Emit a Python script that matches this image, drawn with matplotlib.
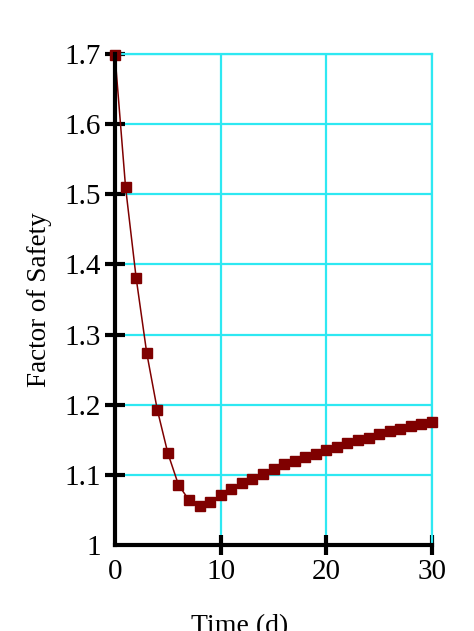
import matplotlib
matplotlib.use("Agg")
import matplotlib.pyplot as plt

# Factor of safety, one point per day
days = list(range(0, 31))
fos = [1.698, 1.510, 1.381, 1.274, 1.193, 1.131, 1.086, 1.064, 1.056, 1.062,
       1.071, 1.080, 1.088, 1.094, 1.101, 1.109, 1.115, 1.120, 1.126, 1.130,
       1.135, 1.140, 1.145, 1.149, 1.153, 1.158, 1.162, 1.165, 1.170, 1.173,
       1.175]
xticks = [0, 10, 20, 30]
yticks = [1.0, 1.1, 1.2, 1.3, 1.4, 1.5, 1.6, 1.7]
ytick_labels = ["1", "1.1", "1.2", "1.3", "1.4", "1.5", "1.6", "1.7"]

GRID = "#2ee8f2"
LINE = "#7f0000"

plt.rcParams["font.family"] = ["Liberation Serif", "DejaVu Serif"]

fig = plt.figure(figsize=(4.74, 6.31), dpi=100)
ax = fig.add_axes([115 / 474, 1 - 545 / 631, 317 / 474, 491 / 631])

ax.plot(days, fos, color=LINE, lw=1.1, marker="s", ms=6.8,
        mfc=LINE, mec=LINE, zorder=3, clip_on=False)

ax.set_xlim(0, 30)
ax.set_ylim(1.0, 1.7)
ax.set_xticks(xticks)
ax.set_xticklabels([str(t) for t in xticks])
ax.set_yticks(yticks)
ax.set_yticklabels(ytick_labels)

ax.grid(True, color=GRID, lw=1.6, zorder=0)
ax.set_axisbelow(True)
for side in ("top", "right"):
    ax.spines[side].set_color(GRID)
    ax.spines[side].set_linewidth(1.6)
for side in ("left", "bottom"):
    ax.spines[side].set_color("black")
    ax.spines[side].set_linewidth(3.0)
    ax.spines[side].set_zorder(4)

ax.tick_params(direction="inout", length=14.4, width=3.0, color="black",
               labelsize=21, pad=3)
ax.xaxis.get_major_ticks()[0].tick1line.set_visible(False)
ax.yaxis.get_major_ticks()[0].tick1line.set_visible(False)

ax.set_ylabel("Factor of Safety", fontsize=19.5, labelpad=9)
fig.text(240 / 474, 1 - 627 / 631, "Time (d)", ha="center", va="center",
         fontsize=20)

fig.savefig("out.png", dpi=100, facecolor="white")
